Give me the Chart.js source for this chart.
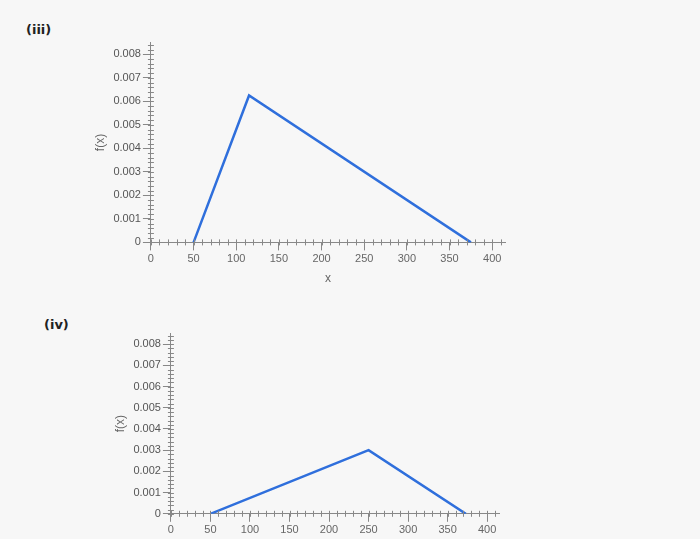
<!DOCTYPE html>
<html><head><script src="https://cdn.jsdelivr.net/npm/chart.js@4"></script>
<style>
body{margin:0;width:700px;height:539px;background:#f7f7f7;position:relative;overflow:hidden;font-family:"DejaVu Sans",sans-serif}
.lbl{position:absolute;font-weight:bold;font-size:13px;color:#222}
.c{position:absolute}
</style></head><body>
<div class="lbl" style="left:26px;top:22px">(iii)</div>
<div class="lbl" style="left:44px;top:317px">(iv)</div>
<div class="c" style="left:89px;top:34px;width:426px;height:256px"><canvas id="c1"></canvas></div>
<div class="c" style="left:109px;top:325px;width:400px;height:214px"><canvas id="c2"></canvas></div>
<script>
const xTicks=[0,50,100,150,200,250,300,350,400];
const yTicks=[0,0.001,0.002,0.003,0.004,0.005,0.006,0.007,0.008];
const x3=[50,115,375], y3=[0,0.00625,0];
const x4=[50,250,373], y4=[0,0.003,0];
const minor={id:'minor',afterDraw(ch){const c=ch.ctx,xs=ch.scales.x,ys=ch.scales.y;c.save();c.strokeStyle='#888';c.lineWidth=1;
 const y0=ys.getPixelForValue(0),x0=xs.getPixelForValue(0);
 for(let v=0;v<=xs.max;v+=10){const p=Math.round(xs.getPixelForValue(v))+0.5;c.beginPath();c.moveTo(p,y0-3);c.lineTo(p,y0+3);c.stroke();}
 for(let v=0;v<=ys.max+1e-9;v+=0.0002){const p=Math.round(ys.getPixelForValue(v))+0.5;c.beginPath();c.moveTo(x0-3,p);c.lineTo(x0+3,p);c.stroke();}
 c.restore();}};
function mk(id,xs,ys,xTitle){
 new Chart(document.getElementById(id),{type:'scatter',
  data:{datasets:[{data:xs.map((x,i)=>({x,y:ys[i]})),showLine:true,borderColor:'#2f6fdc',borderWidth:2.5,pointRadius:0,tension:0}]},
  options:{responsive:true,maintainAspectRatio:false,animation:false,plugins:{legend:{display:false},tooltip:{enabled:false}},
   layout:{padding:{right:10,top:0}},
   scales:{
    x:{min:0,max:415,afterBuildTicks:a=>{a.ticks=xTicks.map(v=>({value:v}))},
     ticks:{color:'#666',font:{size:11},padding:2,callback:v=>v},
     grid:{drawOnChartArea:false,tickLength:8,color:'#888'},border:{color:'#888'},
     title:{display:!!xTitle,text:'x',color:'#666',font:{size:12}}},
    y:{min:0,max:0.0085,afterBuildTicks:a=>{a.ticks=yTicks.map(v=>({value:v}))},
     ticks:{color:'#555',font:{size:11},padding:2,callback:v=>v===0?'0':v.toFixed(3)},
     grid:{drawOnChartArea:false,tickLength:8,color:'#888'},border:{color:'#888'},
     title:{display:true,text:'f(x)',color:'#666',font:{size:12}}}}},
  plugins:[minor]});
}
mk('c1',x3,y3,true);
mk('c2',x4,y4,false);
</script></body></html>
